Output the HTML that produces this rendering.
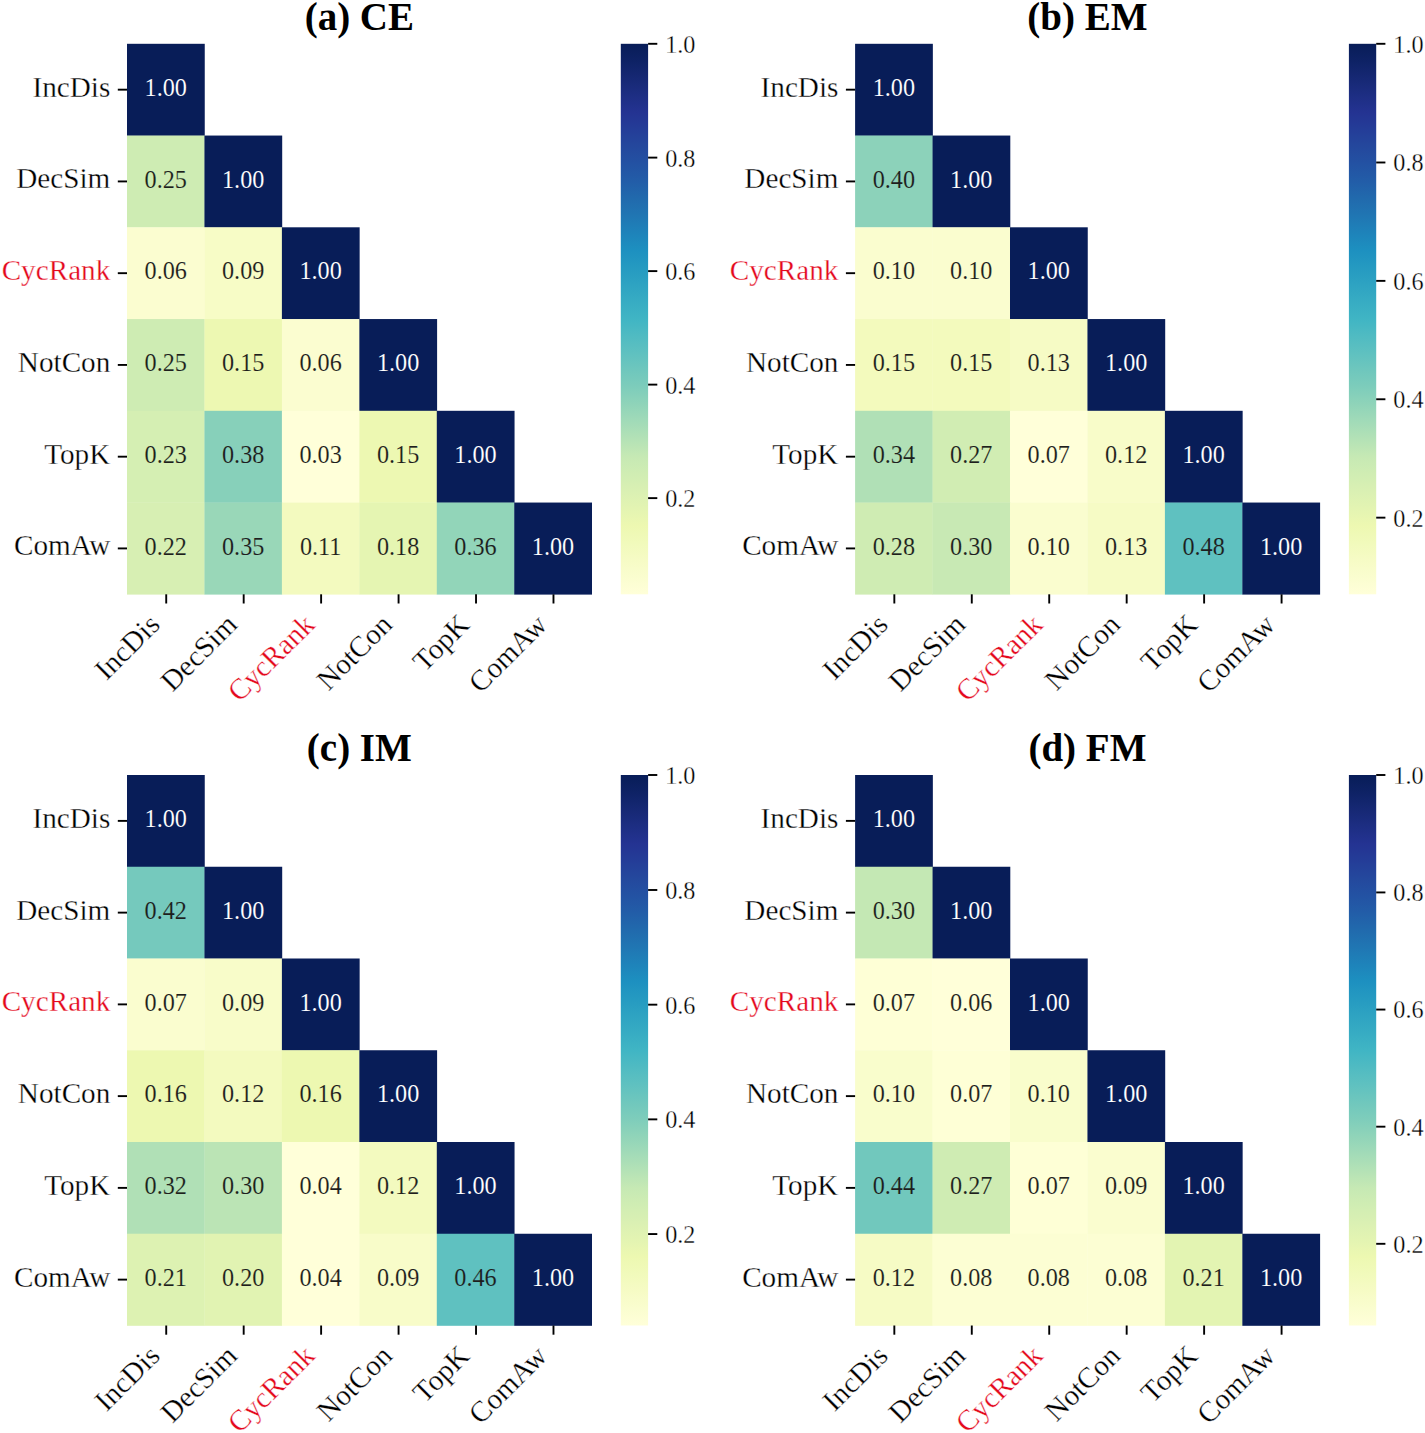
<!DOCTYPE html><html><head><meta charset="utf-8"><style>html,body{margin:0;padding:0;background:#fff;}body{width:1425px;height:1433px;overflow:hidden;}svg{display:block;}text{font-family:"Liberation Serif",serif;}.t{stroke:#fff;stroke-width:0.3px;}</style></head><body>
<svg width="1425" height="1433" viewBox="0 0 1425 1433">
<defs>
<linearGradient id="ga" x1="0" y1="1" x2="0" y2="0">
<stop offset="0.0000" stop-color="#ffffd9"/>
<stop offset="0.0312" stop-color="#fafdcf"/>
<stop offset="0.0625" stop-color="#f6fbc5"/>
<stop offset="0.0938" stop-color="#f1fabb"/>
<stop offset="0.1250" stop-color="#edf8b1"/>
<stop offset="0.1562" stop-color="#e3f4b2"/>
<stop offset="0.1875" stop-color="#daf0b3"/>
<stop offset="0.2188" stop-color="#d0edb3"/>
<stop offset="0.2500" stop-color="#c6e9b4"/>
<stop offset="0.2812" stop-color="#b4e2b6"/>
<stop offset="0.3125" stop-color="#a2dbb8"/>
<stop offset="0.3438" stop-color="#90d4b9"/>
<stop offset="0.3750" stop-color="#7ecdbb"/>
<stop offset="0.4062" stop-color="#6fc7bd"/>
<stop offset="0.4375" stop-color="#5fc1c0"/>
<stop offset="0.4688" stop-color="#50bbc2"/>
<stop offset="0.5000" stop-color="#40b5c4"/>
<stop offset="0.5312" stop-color="#37acc3"/>
<stop offset="0.5625" stop-color="#2ea3c2"/>
<stop offset="0.5938" stop-color="#259ac1"/>
<stop offset="0.6250" stop-color="#1d90c0"/>
<stop offset="0.6562" stop-color="#1e83ba"/>
<stop offset="0.6875" stop-color="#2076b3"/>
<stop offset="0.7188" stop-color="#216aad"/>
<stop offset="0.7500" stop-color="#225da8"/>
<stop offset="0.7812" stop-color="#2352a3"/>
<stop offset="0.8125" stop-color="#24489d"/>
<stop offset="0.8438" stop-color="#243d98"/>
<stop offset="0.8750" stop-color="#243392"/>
<stop offset="0.9062" stop-color="#1d2e83"/>
<stop offset="0.9375" stop-color="#162874"/>
<stop offset="0.9688" stop-color="#0e2265"/>
<stop offset="1.0000" stop-color="#081d58"/>
</linearGradient>
<linearGradient id="gb" x1="0" y1="1" x2="0" y2="0">
<stop offset="0.0000" stop-color="#ffffd9"/>
<stop offset="0.0312" stop-color="#fafdcf"/>
<stop offset="0.0625" stop-color="#f6fbc5"/>
<stop offset="0.0938" stop-color="#f1fabb"/>
<stop offset="0.1250" stop-color="#edf8b1"/>
<stop offset="0.1562" stop-color="#e3f4b2"/>
<stop offset="0.1875" stop-color="#daf0b3"/>
<stop offset="0.2188" stop-color="#d0edb3"/>
<stop offset="0.2500" stop-color="#c6e9b4"/>
<stop offset="0.2812" stop-color="#b4e2b6"/>
<stop offset="0.3125" stop-color="#a2dbb8"/>
<stop offset="0.3438" stop-color="#90d4b9"/>
<stop offset="0.3750" stop-color="#7ecdbb"/>
<stop offset="0.4062" stop-color="#6fc7bd"/>
<stop offset="0.4375" stop-color="#5fc1c0"/>
<stop offset="0.4688" stop-color="#50bbc2"/>
<stop offset="0.5000" stop-color="#40b5c4"/>
<stop offset="0.5312" stop-color="#37acc3"/>
<stop offset="0.5625" stop-color="#2ea3c2"/>
<stop offset="0.5938" stop-color="#259ac1"/>
<stop offset="0.6250" stop-color="#1d90c0"/>
<stop offset="0.6562" stop-color="#1e83ba"/>
<stop offset="0.6875" stop-color="#2076b3"/>
<stop offset="0.7188" stop-color="#216aad"/>
<stop offset="0.7500" stop-color="#225da8"/>
<stop offset="0.7812" stop-color="#2352a3"/>
<stop offset="0.8125" stop-color="#24489d"/>
<stop offset="0.8438" stop-color="#243d98"/>
<stop offset="0.8750" stop-color="#243392"/>
<stop offset="0.9062" stop-color="#1d2e83"/>
<stop offset="0.9375" stop-color="#162874"/>
<stop offset="0.9688" stop-color="#0e2265"/>
<stop offset="1.0000" stop-color="#081d58"/>
</linearGradient>
<linearGradient id="gc" x1="0" y1="1" x2="0" y2="0">
<stop offset="0.0000" stop-color="#ffffd9"/>
<stop offset="0.0312" stop-color="#fafdcf"/>
<stop offset="0.0625" stop-color="#f6fbc5"/>
<stop offset="0.0938" stop-color="#f1fabb"/>
<stop offset="0.1250" stop-color="#edf8b1"/>
<stop offset="0.1562" stop-color="#e3f4b2"/>
<stop offset="0.1875" stop-color="#daf0b3"/>
<stop offset="0.2188" stop-color="#d0edb3"/>
<stop offset="0.2500" stop-color="#c6e9b4"/>
<stop offset="0.2812" stop-color="#b4e2b6"/>
<stop offset="0.3125" stop-color="#a2dbb8"/>
<stop offset="0.3438" stop-color="#90d4b9"/>
<stop offset="0.3750" stop-color="#7ecdbb"/>
<stop offset="0.4062" stop-color="#6fc7bd"/>
<stop offset="0.4375" stop-color="#5fc1c0"/>
<stop offset="0.4688" stop-color="#50bbc2"/>
<stop offset="0.5000" stop-color="#40b5c4"/>
<stop offset="0.5312" stop-color="#37acc3"/>
<stop offset="0.5625" stop-color="#2ea3c2"/>
<stop offset="0.5938" stop-color="#259ac1"/>
<stop offset="0.6250" stop-color="#1d90c0"/>
<stop offset="0.6562" stop-color="#1e83ba"/>
<stop offset="0.6875" stop-color="#2076b3"/>
<stop offset="0.7188" stop-color="#216aad"/>
<stop offset="0.7500" stop-color="#225da8"/>
<stop offset="0.7812" stop-color="#2352a3"/>
<stop offset="0.8125" stop-color="#24489d"/>
<stop offset="0.8438" stop-color="#243d98"/>
<stop offset="0.8750" stop-color="#243392"/>
<stop offset="0.9062" stop-color="#1d2e83"/>
<stop offset="0.9375" stop-color="#162874"/>
<stop offset="0.9688" stop-color="#0e2265"/>
<stop offset="1.0000" stop-color="#081d58"/>
</linearGradient>
<linearGradient id="gd" x1="0" y1="1" x2="0" y2="0">
<stop offset="0.0000" stop-color="#ffffd9"/>
<stop offset="0.0312" stop-color="#fafdcf"/>
<stop offset="0.0625" stop-color="#f6fbc5"/>
<stop offset="0.0938" stop-color="#f1fabb"/>
<stop offset="0.1250" stop-color="#edf8b1"/>
<stop offset="0.1562" stop-color="#e3f4b2"/>
<stop offset="0.1875" stop-color="#daf0b3"/>
<stop offset="0.2188" stop-color="#d0edb3"/>
<stop offset="0.2500" stop-color="#c6e9b4"/>
<stop offset="0.2812" stop-color="#b4e2b6"/>
<stop offset="0.3125" stop-color="#a2dbb8"/>
<stop offset="0.3438" stop-color="#90d4b9"/>
<stop offset="0.3750" stop-color="#7ecdbb"/>
<stop offset="0.4062" stop-color="#6fc7bd"/>
<stop offset="0.4375" stop-color="#5fc1c0"/>
<stop offset="0.4688" stop-color="#50bbc2"/>
<stop offset="0.5000" stop-color="#40b5c4"/>
<stop offset="0.5312" stop-color="#37acc3"/>
<stop offset="0.5625" stop-color="#2ea3c2"/>
<stop offset="0.5938" stop-color="#259ac1"/>
<stop offset="0.6250" stop-color="#1d90c0"/>
<stop offset="0.6562" stop-color="#1e83ba"/>
<stop offset="0.6875" stop-color="#2076b3"/>
<stop offset="0.7188" stop-color="#216aad"/>
<stop offset="0.7500" stop-color="#225da8"/>
<stop offset="0.7812" stop-color="#2352a3"/>
<stop offset="0.8125" stop-color="#24489d"/>
<stop offset="0.8438" stop-color="#243d98"/>
<stop offset="0.8750" stop-color="#243392"/>
<stop offset="0.9062" stop-color="#1d2e83"/>
<stop offset="0.9375" stop-color="#162874"/>
<stop offset="0.9688" stop-color="#0e2265"/>
<stop offset="1.0000" stop-color="#081d58"/>
</linearGradient>
</defs>
<g><rect x="127.00" y="43.80" width="77.75" height="92.05" fill="#081d58"/><rect x="127.00" y="135.55" width="77.75" height="92.05" fill="#ceecb3"/><rect x="204.45" y="135.55" width="77.75" height="92.05" fill="#081d58"/><rect x="127.00" y="227.30" width="77.75" height="92.05" fill="#fbfdd0"/><rect x="204.45" y="227.30" width="77.75" height="92.05" fill="#f7fcc6"/><rect x="281.90" y="227.30" width="77.75" height="92.05" fill="#081d58"/><rect x="127.00" y="319.05" width="77.75" height="92.05" fill="#ceecb3"/><rect x="204.45" y="319.05" width="77.75" height="92.05" fill="#edf8b2"/><rect x="281.90" y="319.05" width="77.75" height="92.05" fill="#fbfdd0"/><rect x="359.35" y="319.05" width="77.75" height="92.05" fill="#081d58"/><rect x="127.00" y="410.80" width="77.75" height="92.05" fill="#d5efb3"/><rect x="204.45" y="410.80" width="77.75" height="92.05" fill="#87d0ba"/><rect x="281.90" y="410.80" width="77.75" height="92.05" fill="#ffffd9"/><rect x="359.35" y="410.80" width="77.75" height="92.05" fill="#edf8b2"/><rect x="436.80" y="410.80" width="77.75" height="92.05" fill="#081d58"/><rect x="127.00" y="502.55" width="77.75" height="92.05" fill="#d7efb3"/><rect x="204.45" y="502.55" width="77.75" height="92.05" fill="#99d7b8"/><rect x="281.90" y="502.55" width="77.75" height="92.05" fill="#f3fabf"/><rect x="359.35" y="502.55" width="77.75" height="92.05" fill="#e5f5b2"/><rect x="436.80" y="502.55" width="77.75" height="92.05" fill="#92d5b9"/><rect x="514.25" y="502.55" width="77.75" height="92.05" fill="#081d58"/><text x="165.72" y="95.88" font-size="24.20" fill="#ffffff" stroke="#081d58" stroke-width="0.12" text-anchor="middle">1.00</text><text x="165.72" y="187.62" font-size="24.20" fill="#1e1e1e" stroke="#ceecb3" stroke-width="0.12" text-anchor="middle">0.25</text><text x="243.18" y="187.62" font-size="24.20" fill="#ffffff" stroke="#081d58" stroke-width="0.12" text-anchor="middle">1.00</text><text x="165.72" y="279.38" font-size="24.20" fill="#1e1e1e" stroke="#fbfdd0" stroke-width="0.12" text-anchor="middle">0.06</text><text x="243.18" y="279.38" font-size="24.20" fill="#1e1e1e" stroke="#f7fcc6" stroke-width="0.12" text-anchor="middle">0.09</text><text x="320.62" y="279.38" font-size="24.20" fill="#ffffff" stroke="#081d58" stroke-width="0.12" text-anchor="middle">1.00</text><text x="165.72" y="371.12" font-size="24.20" fill="#1e1e1e" stroke="#ceecb3" stroke-width="0.12" text-anchor="middle">0.25</text><text x="243.18" y="371.12" font-size="24.20" fill="#1e1e1e" stroke="#edf8b2" stroke-width="0.12" text-anchor="middle">0.15</text><text x="320.62" y="371.12" font-size="24.20" fill="#1e1e1e" stroke="#fbfdd0" stroke-width="0.12" text-anchor="middle">0.06</text><text x="398.07" y="371.12" font-size="24.20" fill="#ffffff" stroke="#081d58" stroke-width="0.12" text-anchor="middle">1.00</text><text x="165.72" y="462.88" font-size="24.20" fill="#1e1e1e" stroke="#d5efb3" stroke-width="0.12" text-anchor="middle">0.23</text><text x="243.18" y="462.88" font-size="24.20" fill="#1e1e1e" stroke="#87d0ba" stroke-width="0.12" text-anchor="middle">0.38</text><text x="320.62" y="462.88" font-size="24.20" fill="#1e1e1e" stroke="#ffffd9" stroke-width="0.12" text-anchor="middle">0.03</text><text x="398.07" y="462.88" font-size="24.20" fill="#1e1e1e" stroke="#edf8b2" stroke-width="0.12" text-anchor="middle">0.15</text><text x="475.53" y="462.88" font-size="24.20" fill="#ffffff" stroke="#081d58" stroke-width="0.12" text-anchor="middle">1.00</text><text x="165.72" y="554.62" font-size="24.20" fill="#1e1e1e" stroke="#d7efb3" stroke-width="0.12" text-anchor="middle">0.22</text><text x="243.18" y="554.62" font-size="24.20" fill="#1e1e1e" stroke="#99d7b8" stroke-width="0.12" text-anchor="middle">0.35</text><text x="320.62" y="554.62" font-size="24.20" fill="#1e1e1e" stroke="#f3fabf" stroke-width="0.12" text-anchor="middle">0.11</text><text x="398.07" y="554.62" font-size="24.20" fill="#1e1e1e" stroke="#e5f5b2" stroke-width="0.12" text-anchor="middle">0.18</text><text x="475.53" y="554.62" font-size="24.20" fill="#1e1e1e" stroke="#92d5b9" stroke-width="0.12" text-anchor="middle">0.36</text><text x="552.98" y="554.62" font-size="24.20" fill="#ffffff" stroke="#081d58" stroke-width="0.12" text-anchor="middle">1.00</text><line x1="117.80" y1="89.67" x2="127.00" y2="89.67" stroke="#000" stroke-width="1.90"/><text x="110.30" y="96.67" font-size="29.20" fill="#000" class="t" text-anchor="end">IncDis</text><line x1="117.80" y1="181.43" x2="127.00" y2="181.43" stroke="#000" stroke-width="1.90"/><text x="110.30" y="188.43" font-size="29.20" fill="#000" class="t" text-anchor="end">DecSim</text><line x1="117.80" y1="273.18" x2="127.00" y2="273.18" stroke="#000" stroke-width="1.90"/><text x="110.30" y="280.18" font-size="29.20" fill="#e4081c" class="t" text-anchor="end">CycRank</text><line x1="117.80" y1="364.93" x2="127.00" y2="364.93" stroke="#000" stroke-width="1.90"/><text x="110.30" y="371.93" font-size="29.20" fill="#000" class="t" text-anchor="end">NotCon</text><line x1="117.80" y1="456.68" x2="127.00" y2="456.68" stroke="#000" stroke-width="1.90"/><text x="110.30" y="463.68" font-size="29.20" fill="#000" class="t" text-anchor="end">TopK</text><line x1="117.80" y1="548.42" x2="127.00" y2="548.42" stroke="#000" stroke-width="1.90"/><text x="110.30" y="555.42" font-size="29.20" fill="#000" class="t" text-anchor="end">ComAw</text><line x1="166.22" y1="594.30" x2="166.22" y2="603.50" stroke="#000" stroke-width="1.90"/><text transform="translate(161.42,626.30) rotate(-45)" font-size="29.20" fill="#000" class="t" text-anchor="end">IncDis</text><line x1="243.68" y1="594.30" x2="243.68" y2="603.50" stroke="#000" stroke-width="1.90"/><text transform="translate(238.88,626.30) rotate(-45)" font-size="29.20" fill="#000" class="t" text-anchor="end">DecSim</text><line x1="321.12" y1="594.30" x2="321.12" y2="603.50" stroke="#000" stroke-width="1.90"/><text transform="translate(316.32,626.30) rotate(-45)" font-size="29.20" fill="#e4081c" class="t" text-anchor="end">CycRank</text><line x1="398.57" y1="594.30" x2="398.57" y2="603.50" stroke="#000" stroke-width="1.90"/><text transform="translate(393.77,626.30) rotate(-45)" font-size="29.20" fill="#000" class="t" text-anchor="end">NotCon</text><line x1="476.03" y1="594.30" x2="476.03" y2="603.50" stroke="#000" stroke-width="1.90"/><text transform="translate(471.23,626.30) rotate(-45)" font-size="29.20" fill="#000" class="t" text-anchor="end">TopK</text><line x1="553.48" y1="594.30" x2="553.48" y2="603.50" stroke="#000" stroke-width="1.90"/><text transform="translate(548.68,626.30) rotate(-45)" font-size="29.20" fill="#000" class="t" text-anchor="end">ComAw</text><text x="359.35" y="29.50" font-size="39.00" font-weight="bold" fill="#000" text-anchor="middle">(a) CE</text><rect x="620.80" y="43.80" width="27.30" height="550.50" fill="url(#ga)"/><line x1="648.10" y1="498.12" x2="657.30" y2="498.12" stroke="#000" stroke-width="1.90"/><text x="665.20" y="507.02" font-size="24.20" fill="#000" class="t">0.2</text><line x1="648.10" y1="384.62" x2="657.30" y2="384.62" stroke="#000" stroke-width="1.90"/><text x="665.20" y="393.52" font-size="24.20" fill="#000" class="t">0.4</text><line x1="648.10" y1="271.11" x2="657.30" y2="271.11" stroke="#000" stroke-width="1.90"/><text x="665.20" y="280.01" font-size="24.20" fill="#000" class="t">0.6</text><line x1="648.10" y1="157.61" x2="657.30" y2="157.61" stroke="#000" stroke-width="1.90"/><text x="665.20" y="166.51" font-size="24.20" fill="#000" class="t">0.8</text><line x1="648.10" y1="43.80" x2="657.30" y2="43.80" stroke="#000" stroke-width="1.90"/><text x="665.20" y="52.70" font-size="24.20" fill="#000" class="t">1.0</text></g>
<g><rect x="855.10" y="43.80" width="77.75" height="92.05" fill="#081d58"/><rect x="855.10" y="135.55" width="77.75" height="92.05" fill="#8cd2ba"/><rect x="932.55" y="135.55" width="77.75" height="92.05" fill="#081d58"/><rect x="855.10" y="227.30" width="77.75" height="92.05" fill="#fafdcf"/><rect x="932.55" y="227.30" width="77.75" height="92.05" fill="#fafdcf"/><rect x="1010.00" y="227.30" width="77.75" height="92.05" fill="#081d58"/><rect x="855.10" y="319.05" width="77.75" height="92.05" fill="#f3fabd"/><rect x="932.55" y="319.05" width="77.75" height="92.05" fill="#f3fabd"/><rect x="1010.00" y="319.05" width="77.75" height="92.05" fill="#f6fbc5"/><rect x="1087.45" y="319.05" width="77.75" height="92.05" fill="#081d58"/><rect x="855.10" y="410.80" width="77.75" height="92.05" fill="#b0e0b6"/><rect x="932.55" y="410.80" width="77.75" height="92.05" fill="#d1edb3"/><rect x="1010.00" y="410.80" width="77.75" height="92.05" fill="#ffffd9"/><rect x="1087.45" y="410.80" width="77.75" height="92.05" fill="#f8fcc9"/><rect x="1164.90" y="410.80" width="77.75" height="92.05" fill="#081d58"/><rect x="855.10" y="502.55" width="77.75" height="92.05" fill="#cfecb3"/><rect x="932.55" y="502.55" width="77.75" height="92.05" fill="#c8e9b4"/><rect x="1010.00" y="502.55" width="77.75" height="92.05" fill="#fafdcf"/><rect x="1087.45" y="502.55" width="77.75" height="92.05" fill="#f6fbc5"/><rect x="1164.90" y="502.55" width="77.75" height="92.05" fill="#5fc1c0"/><rect x="1242.35" y="502.55" width="77.75" height="92.05" fill="#081d58"/><text x="893.83" y="95.88" font-size="24.20" fill="#ffffff" stroke="#081d58" stroke-width="0.12" text-anchor="middle">1.00</text><text x="893.83" y="187.62" font-size="24.20" fill="#1e1e1e" stroke="#8cd2ba" stroke-width="0.12" text-anchor="middle">0.40</text><text x="971.28" y="187.62" font-size="24.20" fill="#ffffff" stroke="#081d58" stroke-width="0.12" text-anchor="middle">1.00</text><text x="893.83" y="279.38" font-size="24.20" fill="#1e1e1e" stroke="#fafdcf" stroke-width="0.12" text-anchor="middle">0.10</text><text x="971.28" y="279.38" font-size="24.20" fill="#1e1e1e" stroke="#fafdcf" stroke-width="0.12" text-anchor="middle">0.10</text><text x="1048.72" y="279.38" font-size="24.20" fill="#ffffff" stroke="#081d58" stroke-width="0.12" text-anchor="middle">1.00</text><text x="893.83" y="371.12" font-size="24.20" fill="#1e1e1e" stroke="#f3fabd" stroke-width="0.12" text-anchor="middle">0.15</text><text x="971.28" y="371.12" font-size="24.20" fill="#1e1e1e" stroke="#f3fabd" stroke-width="0.12" text-anchor="middle">0.15</text><text x="1048.72" y="371.12" font-size="24.20" fill="#1e1e1e" stroke="#f6fbc5" stroke-width="0.12" text-anchor="middle">0.13</text><text x="1126.17" y="371.12" font-size="24.20" fill="#ffffff" stroke="#081d58" stroke-width="0.12" text-anchor="middle">1.00</text><text x="893.83" y="462.88" font-size="24.20" fill="#1e1e1e" stroke="#b0e0b6" stroke-width="0.12" text-anchor="middle">0.34</text><text x="971.28" y="462.88" font-size="24.20" fill="#1e1e1e" stroke="#d1edb3" stroke-width="0.12" text-anchor="middle">0.27</text><text x="1048.72" y="462.88" font-size="24.20" fill="#1e1e1e" stroke="#ffffd9" stroke-width="0.12" text-anchor="middle">0.07</text><text x="1126.17" y="462.88" font-size="24.20" fill="#1e1e1e" stroke="#f8fcc9" stroke-width="0.12" text-anchor="middle">0.12</text><text x="1203.62" y="462.88" font-size="24.20" fill="#ffffff" stroke="#081d58" stroke-width="0.12" text-anchor="middle">1.00</text><text x="893.83" y="554.62" font-size="24.20" fill="#1e1e1e" stroke="#cfecb3" stroke-width="0.12" text-anchor="middle">0.28</text><text x="971.28" y="554.62" font-size="24.20" fill="#1e1e1e" stroke="#c8e9b4" stroke-width="0.12" text-anchor="middle">0.30</text><text x="1048.72" y="554.62" font-size="24.20" fill="#1e1e1e" stroke="#fafdcf" stroke-width="0.12" text-anchor="middle">0.10</text><text x="1126.17" y="554.62" font-size="24.20" fill="#1e1e1e" stroke="#f6fbc5" stroke-width="0.12" text-anchor="middle">0.13</text><text x="1203.62" y="554.62" font-size="24.20" fill="#1e1e1e" stroke="#5fc1c0" stroke-width="0.12" text-anchor="middle">0.48</text><text x="1281.08" y="554.62" font-size="24.20" fill="#ffffff" stroke="#081d58" stroke-width="0.12" text-anchor="middle">1.00</text><line x1="845.90" y1="89.67" x2="855.10" y2="89.67" stroke="#000" stroke-width="1.90"/><text x="838.40" y="96.67" font-size="29.20" fill="#000" class="t" text-anchor="end">IncDis</text><line x1="845.90" y1="181.43" x2="855.10" y2="181.43" stroke="#000" stroke-width="1.90"/><text x="838.40" y="188.43" font-size="29.20" fill="#000" class="t" text-anchor="end">DecSim</text><line x1="845.90" y1="273.18" x2="855.10" y2="273.18" stroke="#000" stroke-width="1.90"/><text x="838.40" y="280.18" font-size="29.20" fill="#e4081c" class="t" text-anchor="end">CycRank</text><line x1="845.90" y1="364.93" x2="855.10" y2="364.93" stroke="#000" stroke-width="1.90"/><text x="838.40" y="371.93" font-size="29.20" fill="#000" class="t" text-anchor="end">NotCon</text><line x1="845.90" y1="456.68" x2="855.10" y2="456.68" stroke="#000" stroke-width="1.90"/><text x="838.40" y="463.68" font-size="29.20" fill="#000" class="t" text-anchor="end">TopK</text><line x1="845.90" y1="548.42" x2="855.10" y2="548.42" stroke="#000" stroke-width="1.90"/><text x="838.40" y="555.42" font-size="29.20" fill="#000" class="t" text-anchor="end">ComAw</text><line x1="894.33" y1="594.30" x2="894.33" y2="603.50" stroke="#000" stroke-width="1.90"/><text transform="translate(889.53,626.30) rotate(-45)" font-size="29.20" fill="#000" class="t" text-anchor="end">IncDis</text><line x1="971.78" y1="594.30" x2="971.78" y2="603.50" stroke="#000" stroke-width="1.90"/><text transform="translate(966.98,626.30) rotate(-45)" font-size="29.20" fill="#000" class="t" text-anchor="end">DecSim</text><line x1="1049.22" y1="594.30" x2="1049.22" y2="603.50" stroke="#000" stroke-width="1.90"/><text transform="translate(1044.42,626.30) rotate(-45)" font-size="29.20" fill="#e4081c" class="t" text-anchor="end">CycRank</text><line x1="1126.67" y1="594.30" x2="1126.67" y2="603.50" stroke="#000" stroke-width="1.90"/><text transform="translate(1121.88,626.30) rotate(-45)" font-size="29.20" fill="#000" class="t" text-anchor="end">NotCon</text><line x1="1204.12" y1="594.30" x2="1204.12" y2="603.50" stroke="#000" stroke-width="1.90"/><text transform="translate(1199.33,626.30) rotate(-45)" font-size="29.20" fill="#000" class="t" text-anchor="end">TopK</text><line x1="1281.58" y1="594.30" x2="1281.58" y2="603.50" stroke="#000" stroke-width="1.90"/><text transform="translate(1276.78,626.30) rotate(-45)" font-size="29.20" fill="#000" class="t" text-anchor="end">ComAw</text><text x="1087.45" y="29.50" font-size="39.00" font-weight="bold" fill="#000" text-anchor="middle">(b) EM</text><rect x="1348.90" y="43.80" width="27.30" height="550.50" fill="url(#gb)"/><line x1="1376.20" y1="517.65" x2="1385.40" y2="517.65" stroke="#000" stroke-width="1.90"/><text x="1393.30" y="526.55" font-size="24.20" fill="#000" class="t">0.2</text><line x1="1376.20" y1="399.26" x2="1385.40" y2="399.26" stroke="#000" stroke-width="1.90"/><text x="1393.30" y="408.16" font-size="24.20" fill="#000" class="t">0.4</text><line x1="1376.20" y1="280.87" x2="1385.40" y2="280.87" stroke="#000" stroke-width="1.90"/><text x="1393.30" y="289.77" font-size="24.20" fill="#000" class="t">0.6</text><line x1="1376.20" y1="162.49" x2="1385.40" y2="162.49" stroke="#000" stroke-width="1.90"/><text x="1393.30" y="171.39" font-size="24.20" fill="#000" class="t">0.8</text><line x1="1376.20" y1="43.80" x2="1385.40" y2="43.80" stroke="#000" stroke-width="1.90"/><text x="1393.30" y="52.70" font-size="24.20" fill="#000" class="t">1.0</text></g>
<g><rect x="127.00" y="775.00" width="77.75" height="92.05" fill="#081d58"/><rect x="127.00" y="866.75" width="77.75" height="92.05" fill="#75c9bd"/><rect x="204.45" y="866.75" width="77.75" height="92.05" fill="#081d58"/><rect x="127.00" y="958.50" width="77.75" height="92.05" fill="#fafdcf"/><rect x="204.45" y="958.50" width="77.75" height="92.05" fill="#f8fcc9"/><rect x="281.90" y="958.50" width="77.75" height="92.05" fill="#081d58"/><rect x="127.00" y="1050.25" width="77.75" height="92.05" fill="#edf8b1"/><rect x="204.45" y="1050.25" width="77.75" height="92.05" fill="#f3fabf"/><rect x="281.90" y="1050.25" width="77.75" height="92.05" fill="#edf8b1"/><rect x="359.35" y="1050.25" width="77.75" height="92.05" fill="#081d58"/><rect x="127.00" y="1142.00" width="77.75" height="92.05" fill="#b0e0b6"/><rect x="204.45" y="1142.00" width="77.75" height="92.05" fill="#bbe4b5"/><rect x="281.90" y="1142.00" width="77.75" height="92.05" fill="#ffffd9"/><rect x="359.35" y="1142.00" width="77.75" height="92.05" fill="#f3fabf"/><rect x="436.80" y="1142.00" width="77.75" height="92.05" fill="#081d58"/><rect x="127.00" y="1233.75" width="77.75" height="92.05" fill="#ddf2b2"/><rect x="204.45" y="1233.75" width="77.75" height="92.05" fill="#e1f3b2"/><rect x="281.90" y="1233.75" width="77.75" height="92.05" fill="#ffffd9"/><rect x="359.35" y="1233.75" width="77.75" height="92.05" fill="#f8fcc9"/><rect x="436.80" y="1233.75" width="77.75" height="92.05" fill="#5fc1c0"/><rect x="514.25" y="1233.75" width="77.75" height="92.05" fill="#081d58"/><text x="165.72" y="827.08" font-size="24.20" fill="#ffffff" stroke="#081d58" stroke-width="0.12" text-anchor="middle">1.00</text><text x="165.72" y="918.83" font-size="24.20" fill="#1e1e1e" stroke="#75c9bd" stroke-width="0.12" text-anchor="middle">0.42</text><text x="243.18" y="918.83" font-size="24.20" fill="#ffffff" stroke="#081d58" stroke-width="0.12" text-anchor="middle">1.00</text><text x="165.72" y="1010.58" font-size="24.20" fill="#1e1e1e" stroke="#fafdcf" stroke-width="0.12" text-anchor="middle">0.07</text><text x="243.18" y="1010.58" font-size="24.20" fill="#1e1e1e" stroke="#f8fcc9" stroke-width="0.12" text-anchor="middle">0.09</text><text x="320.62" y="1010.58" font-size="24.20" fill="#ffffff" stroke="#081d58" stroke-width="0.12" text-anchor="middle">1.00</text><text x="165.72" y="1102.33" font-size="24.20" fill="#1e1e1e" stroke="#edf8b1" stroke-width="0.12" text-anchor="middle">0.16</text><text x="243.18" y="1102.33" font-size="24.20" fill="#1e1e1e" stroke="#f3fabf" stroke-width="0.12" text-anchor="middle">0.12</text><text x="320.62" y="1102.33" font-size="24.20" fill="#1e1e1e" stroke="#edf8b1" stroke-width="0.12" text-anchor="middle">0.16</text><text x="398.07" y="1102.33" font-size="24.20" fill="#ffffff" stroke="#081d58" stroke-width="0.12" text-anchor="middle">1.00</text><text x="165.72" y="1194.08" font-size="24.20" fill="#1e1e1e" stroke="#b0e0b6" stroke-width="0.12" text-anchor="middle">0.32</text><text x="243.18" y="1194.08" font-size="24.20" fill="#1e1e1e" stroke="#bbe4b5" stroke-width="0.12" text-anchor="middle">0.30</text><text x="320.62" y="1194.08" font-size="24.20" fill="#1e1e1e" stroke="#ffffd9" stroke-width="0.12" text-anchor="middle">0.04</text><text x="398.07" y="1194.08" font-size="24.20" fill="#1e1e1e" stroke="#f3fabf" stroke-width="0.12" text-anchor="middle">0.12</text><text x="475.53" y="1194.08" font-size="24.20" fill="#ffffff" stroke="#081d58" stroke-width="0.12" text-anchor="middle">1.00</text><text x="165.72" y="1285.83" font-size="24.20" fill="#1e1e1e" stroke="#ddf2b2" stroke-width="0.12" text-anchor="middle">0.21</text><text x="243.18" y="1285.83" font-size="24.20" fill="#1e1e1e" stroke="#e1f3b2" stroke-width="0.12" text-anchor="middle">0.20</text><text x="320.62" y="1285.83" font-size="24.20" fill="#1e1e1e" stroke="#ffffd9" stroke-width="0.12" text-anchor="middle">0.04</text><text x="398.07" y="1285.83" font-size="24.20" fill="#1e1e1e" stroke="#f8fcc9" stroke-width="0.12" text-anchor="middle">0.09</text><text x="475.53" y="1285.83" font-size="24.20" fill="#1e1e1e" stroke="#5fc1c0" stroke-width="0.12" text-anchor="middle">0.46</text><text x="552.98" y="1285.83" font-size="24.20" fill="#ffffff" stroke="#081d58" stroke-width="0.12" text-anchor="middle">1.00</text><line x1="117.80" y1="820.88" x2="127.00" y2="820.88" stroke="#000" stroke-width="1.90"/><text x="110.30" y="827.88" font-size="29.20" fill="#000" class="t" text-anchor="end">IncDis</text><line x1="117.80" y1="912.62" x2="127.00" y2="912.62" stroke="#000" stroke-width="1.90"/><text x="110.30" y="919.62" font-size="29.20" fill="#000" class="t" text-anchor="end">DecSim</text><line x1="117.80" y1="1004.38" x2="127.00" y2="1004.38" stroke="#000" stroke-width="1.90"/><text x="110.30" y="1011.38" font-size="29.20" fill="#e4081c" class="t" text-anchor="end">CycRank</text><line x1="117.80" y1="1096.12" x2="127.00" y2="1096.12" stroke="#000" stroke-width="1.90"/><text x="110.30" y="1103.12" font-size="29.20" fill="#000" class="t" text-anchor="end">NotCon</text><line x1="117.80" y1="1187.88" x2="127.00" y2="1187.88" stroke="#000" stroke-width="1.90"/><text x="110.30" y="1194.88" font-size="29.20" fill="#000" class="t" text-anchor="end">TopK</text><line x1="117.80" y1="1279.62" x2="127.00" y2="1279.62" stroke="#000" stroke-width="1.90"/><text x="110.30" y="1286.62" font-size="29.20" fill="#000" class="t" text-anchor="end">ComAw</text><line x1="166.22" y1="1325.50" x2="166.22" y2="1334.70" stroke="#000" stroke-width="1.90"/><text transform="translate(161.42,1357.50) rotate(-45)" font-size="29.20" fill="#000" class="t" text-anchor="end">IncDis</text><line x1="243.68" y1="1325.50" x2="243.68" y2="1334.70" stroke="#000" stroke-width="1.90"/><text transform="translate(238.88,1357.50) rotate(-45)" font-size="29.20" fill="#000" class="t" text-anchor="end">DecSim</text><line x1="321.12" y1="1325.50" x2="321.12" y2="1334.70" stroke="#000" stroke-width="1.90"/><text transform="translate(316.32,1357.50) rotate(-45)" font-size="29.20" fill="#e4081c" class="t" text-anchor="end">CycRank</text><line x1="398.57" y1="1325.50" x2="398.57" y2="1334.70" stroke="#000" stroke-width="1.90"/><text transform="translate(393.77,1357.50) rotate(-45)" font-size="29.20" fill="#000" class="t" text-anchor="end">NotCon</text><line x1="476.03" y1="1325.50" x2="476.03" y2="1334.70" stroke="#000" stroke-width="1.90"/><text transform="translate(471.23,1357.50) rotate(-45)" font-size="29.20" fill="#000" class="t" text-anchor="end">TopK</text><line x1="553.48" y1="1325.50" x2="553.48" y2="1334.70" stroke="#000" stroke-width="1.90"/><text transform="translate(548.68,1357.50) rotate(-45)" font-size="29.20" fill="#000" class="t" text-anchor="end">ComAw</text><text x="359.35" y="760.70" font-size="39.00" font-weight="bold" fill="#000" text-anchor="middle">(c) IM</text><rect x="620.80" y="775.00" width="27.30" height="550.50" fill="url(#gc)"/><line x1="648.10" y1="1234.05" x2="657.30" y2="1234.05" stroke="#000" stroke-width="1.90"/><text x="665.20" y="1242.95" font-size="24.20" fill="#000" class="t">0.2</text><line x1="648.10" y1="1119.36" x2="657.30" y2="1119.36" stroke="#000" stroke-width="1.90"/><text x="665.20" y="1128.26" font-size="24.20" fill="#000" class="t">0.4</text><line x1="648.10" y1="1004.67" x2="657.30" y2="1004.67" stroke="#000" stroke-width="1.90"/><text x="665.20" y="1013.57" font-size="24.20" fill="#000" class="t">0.6</text><line x1="648.10" y1="889.99" x2="657.30" y2="889.99" stroke="#000" stroke-width="1.90"/><text x="665.20" y="898.89" font-size="24.20" fill="#000" class="t">0.8</text><line x1="648.10" y1="775.00" x2="657.30" y2="775.00" stroke="#000" stroke-width="1.90"/><text x="665.20" y="783.90" font-size="24.20" fill="#000" class="t">1.0</text></g>
<g><rect x="855.10" y="775.00" width="77.75" height="92.05" fill="#081d58"/><rect x="855.10" y="866.75" width="77.75" height="92.05" fill="#c4e8b4"/><rect x="932.55" y="866.75" width="77.75" height="92.05" fill="#081d58"/><rect x="855.10" y="958.50" width="77.75" height="92.05" fill="#feffd6"/><rect x="932.55" y="958.50" width="77.75" height="92.05" fill="#ffffd9"/><rect x="1010.00" y="958.50" width="77.75" height="92.05" fill="#081d58"/><rect x="855.10" y="1050.25" width="77.75" height="92.05" fill="#f9fdcc"/><rect x="932.55" y="1050.25" width="77.75" height="92.05" fill="#feffd6"/><rect x="1010.00" y="1050.25" width="77.75" height="92.05" fill="#f9fdcc"/><rect x="1087.45" y="1050.25" width="77.75" height="92.05" fill="#081d58"/><rect x="855.10" y="1142.00" width="77.75" height="92.05" fill="#71c8bd"/><rect x="932.55" y="1142.00" width="77.75" height="92.05" fill="#cfecb3"/><rect x="1010.00" y="1142.00" width="77.75" height="92.05" fill="#feffd6"/><rect x="1087.45" y="1142.00" width="77.75" height="92.05" fill="#fafdcf"/><rect x="1164.90" y="1142.00" width="77.75" height="92.05" fill="#081d58"/><rect x="855.10" y="1233.75" width="77.75" height="92.05" fill="#f6fbc5"/><rect x="932.55" y="1233.75" width="77.75" height="92.05" fill="#fcfed3"/><rect x="1010.00" y="1233.75" width="77.75" height="92.05" fill="#fcfed3"/><rect x="1087.45" y="1233.75" width="77.75" height="92.05" fill="#fcfed3"/><rect x="1164.90" y="1233.75" width="77.75" height="92.05" fill="#e3f4b2"/><rect x="1242.35" y="1233.75" width="77.75" height="92.05" fill="#081d58"/><text x="893.83" y="827.08" font-size="24.20" fill="#ffffff" stroke="#081d58" stroke-width="0.12" text-anchor="middle">1.00</text><text x="893.83" y="918.83" font-size="24.20" fill="#1e1e1e" stroke="#c4e8b4" stroke-width="0.12" text-anchor="middle">0.30</text><text x="971.28" y="918.83" font-size="24.20" fill="#ffffff" stroke="#081d58" stroke-width="0.12" text-anchor="middle">1.00</text><text x="893.83" y="1010.58" font-size="24.20" fill="#1e1e1e" stroke="#feffd6" stroke-width="0.12" text-anchor="middle">0.07</text><text x="971.28" y="1010.58" font-size="24.20" fill="#1e1e1e" stroke="#ffffd9" stroke-width="0.12" text-anchor="middle">0.06</text><text x="1048.72" y="1010.58" font-size="24.20" fill="#ffffff" stroke="#081d58" stroke-width="0.12" text-anchor="middle">1.00</text><text x="893.83" y="1102.33" font-size="24.20" fill="#1e1e1e" stroke="#f9fdcc" stroke-width="0.12" text-anchor="middle">0.10</text><text x="971.28" y="1102.33" font-size="24.20" fill="#1e1e1e" stroke="#feffd6" stroke-width="0.12" text-anchor="middle">0.07</text><text x="1048.72" y="1102.33" font-size="24.20" fill="#1e1e1e" stroke="#f9fdcc" stroke-width="0.12" text-anchor="middle">0.10</text><text x="1126.17" y="1102.33" font-size="24.20" fill="#ffffff" stroke="#081d58" stroke-width="0.12" text-anchor="middle">1.00</text><text x="893.83" y="1194.08" font-size="24.20" fill="#1e1e1e" stroke="#71c8bd" stroke-width="0.12" text-anchor="middle">0.44</text><text x="971.28" y="1194.08" font-size="24.20" fill="#1e1e1e" stroke="#cfecb3" stroke-width="0.12" text-anchor="middle">0.27</text><text x="1048.72" y="1194.08" font-size="24.20" fill="#1e1e1e" stroke="#feffd6" stroke-width="0.12" text-anchor="middle">0.07</text><text x="1126.17" y="1194.08" font-size="24.20" fill="#1e1e1e" stroke="#fafdcf" stroke-width="0.12" text-anchor="middle">0.09</text><text x="1203.62" y="1194.08" font-size="24.20" fill="#ffffff" stroke="#081d58" stroke-width="0.12" text-anchor="middle">1.00</text><text x="893.83" y="1285.83" font-size="24.20" fill="#1e1e1e" stroke="#f6fbc5" stroke-width="0.12" text-anchor="middle">0.12</text><text x="971.28" y="1285.83" font-size="24.20" fill="#1e1e1e" stroke="#fcfed3" stroke-width="0.12" text-anchor="middle">0.08</text><text x="1048.72" y="1285.83" font-size="24.20" fill="#1e1e1e" stroke="#fcfed3" stroke-width="0.12" text-anchor="middle">0.08</text><text x="1126.17" y="1285.83" font-size="24.20" fill="#1e1e1e" stroke="#fcfed3" stroke-width="0.12" text-anchor="middle">0.08</text><text x="1203.62" y="1285.83" font-size="24.20" fill="#1e1e1e" stroke="#e3f4b2" stroke-width="0.12" text-anchor="middle">0.21</text><text x="1281.08" y="1285.83" font-size="24.20" fill="#ffffff" stroke="#081d58" stroke-width="0.12" text-anchor="middle">1.00</text><line x1="845.90" y1="820.88" x2="855.10" y2="820.88" stroke="#000" stroke-width="1.90"/><text x="838.40" y="827.88" font-size="29.20" fill="#000" class="t" text-anchor="end">IncDis</text><line x1="845.90" y1="912.62" x2="855.10" y2="912.62" stroke="#000" stroke-width="1.90"/><text x="838.40" y="919.62" font-size="29.20" fill="#000" class="t" text-anchor="end">DecSim</text><line x1="845.90" y1="1004.38" x2="855.10" y2="1004.38" stroke="#000" stroke-width="1.90"/><text x="838.40" y="1011.38" font-size="29.20" fill="#e4081c" class="t" text-anchor="end">CycRank</text><line x1="845.90" y1="1096.12" x2="855.10" y2="1096.12" stroke="#000" stroke-width="1.90"/><text x="838.40" y="1103.12" font-size="29.20" fill="#000" class="t" text-anchor="end">NotCon</text><line x1="845.90" y1="1187.88" x2="855.10" y2="1187.88" stroke="#000" stroke-width="1.90"/><text x="838.40" y="1194.88" font-size="29.20" fill="#000" class="t" text-anchor="end">TopK</text><line x1="845.90" y1="1279.62" x2="855.10" y2="1279.62" stroke="#000" stroke-width="1.90"/><text x="838.40" y="1286.62" font-size="29.20" fill="#000" class="t" text-anchor="end">ComAw</text><line x1="894.33" y1="1325.50" x2="894.33" y2="1334.70" stroke="#000" stroke-width="1.90"/><text transform="translate(889.53,1357.50) rotate(-45)" font-size="29.20" fill="#000" class="t" text-anchor="end">IncDis</text><line x1="971.78" y1="1325.50" x2="971.78" y2="1334.70" stroke="#000" stroke-width="1.90"/><text transform="translate(966.98,1357.50) rotate(-45)" font-size="29.20" fill="#000" class="t" text-anchor="end">DecSim</text><line x1="1049.22" y1="1325.50" x2="1049.22" y2="1334.70" stroke="#000" stroke-width="1.90"/><text transform="translate(1044.42,1357.50) rotate(-45)" font-size="29.20" fill="#e4081c" class="t" text-anchor="end">CycRank</text><line x1="1126.67" y1="1325.50" x2="1126.67" y2="1334.70" stroke="#000" stroke-width="1.90"/><text transform="translate(1121.88,1357.50) rotate(-45)" font-size="29.20" fill="#000" class="t" text-anchor="end">NotCon</text><line x1="1204.12" y1="1325.50" x2="1204.12" y2="1334.70" stroke="#000" stroke-width="1.90"/><text transform="translate(1199.33,1357.50) rotate(-45)" font-size="29.20" fill="#000" class="t" text-anchor="end">TopK</text><line x1="1281.58" y1="1325.50" x2="1281.58" y2="1334.70" stroke="#000" stroke-width="1.90"/><text transform="translate(1276.78,1357.50) rotate(-45)" font-size="29.20" fill="#000" class="t" text-anchor="end">ComAw</text><text x="1087.45" y="760.70" font-size="39.00" font-weight="bold" fill="#000" text-anchor="middle">(d) FM</text><rect x="1348.90" y="775.00" width="27.30" height="550.50" fill="url(#gd)"/><line x1="1376.20" y1="1243.81" x2="1385.40" y2="1243.81" stroke="#000" stroke-width="1.90"/><text x="1393.30" y="1252.71" font-size="24.20" fill="#000" class="t">0.2</text><line x1="1376.20" y1="1126.68" x2="1385.40" y2="1126.68" stroke="#000" stroke-width="1.90"/><text x="1393.30" y="1135.58" font-size="24.20" fill="#000" class="t">0.4</text><line x1="1376.20" y1="1009.56" x2="1385.40" y2="1009.56" stroke="#000" stroke-width="1.90"/><text x="1393.30" y="1018.46" font-size="24.20" fill="#000" class="t">0.6</text><line x1="1376.20" y1="892.43" x2="1385.40" y2="892.43" stroke="#000" stroke-width="1.90"/><text x="1393.30" y="901.33" font-size="24.20" fill="#000" class="t">0.8</text><line x1="1376.20" y1="775.00" x2="1385.40" y2="775.00" stroke="#000" stroke-width="1.90"/><text x="1393.30" y="783.90" font-size="24.20" fill="#000" class="t">1.0</text></g>
</svg></body></html>
